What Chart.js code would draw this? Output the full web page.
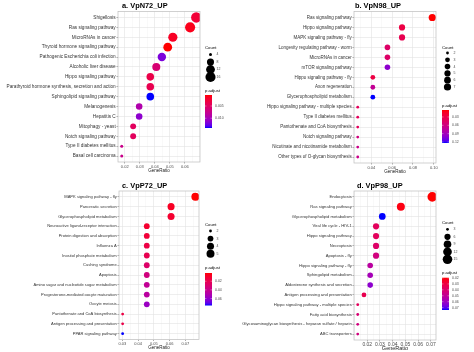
<!DOCTYPE html>
<html>
<head>
<meta charset="utf-8">
<script src="https://cdn.jsdelivr.net/npm/chart.js@4.4.1/dist/chart.umd.min.js"></script>
<style>
  body { margin: 0; background: #fff; }
  #wrap { position: relative; width: 474px; height: 352px; overflow: hidden; }
  canvas { position: absolute; }
</style>
</head>
<body>
<div id="wrap">
  <canvas id="pa" width="237" height="176" style="left:0;top:0"></canvas>
  <canvas id="pb" width="237" height="176" style="left:237px;top:0"></canvas>
  <canvas id="pc" width="237" height="176" style="left:0;top:176px"></canvas>
  <canvas id="pd" width="237" height="176" style="left:237px;top:176px"></canvas>
</div>
<script>
// a. VpN72_UP
const aTerms = ["Shigellosis", "Ras signaling pathway", "MicroRNAs in cancer", "Thyroid hormone signaling pathway",
  "Pathogenic Escherichia coli infection", "Alcoholic liver disease", "Hippo signaling pathway",
  "Parathyroid hormone synthesis, secretion and action", "Sphingolipid signaling pathway", "Melanogenesis",
  "Hepatitis C", "Mitophagy - yeast", "Notch signaling pathway", "Type II diabetes mellitus", "Basal cell carcinoma"];
const aRatio = [0.0676, 0.0635, 0.052, 0.0486, 0.0447, 0.041, 0.037, 0.037, 0.037, 0.0296, 0.0296, 0.0256, 0.0256, 0.018, 0.018];
const aCount = [17, 16, 13, 12, 11, 10, 9, 9, 9, 7, 7, 6, 6, 4, 4];
const aPadj = [0.0025, 0.0012, 0.0016, 0.0005, 0.0120, 0.0059, 0.0035, 0.0039, 0.0140, 0.0093, 0.0113, 0.0046, 0.0046, 0.0073, 0.0073];
const aTicks = [0.02, 0.03, 0.04, 0.05, 0.06];
const aCountBreaks = [4, 8, 12, 16];
const aPadjBreaks = [0.005, 0.010];

// b. VpN98_UP
const bTerms = ["Ras signaling pathway", "Hippo signaling pathway", "MAPK signaling pathway - fly",
  "Longevity regulating pathway - worm", "MicroRNAs in cancer", "mTOR signaling pathway",
  "Hippo signaling pathway - fly", "Axon regeneration", "Glycerophospholipid metabolism",
  "Hippo signaling pathway - multiple species", "Type II diabetes mellitus", "Pantothenate and CoA biosynthesis",
  "Notch signaling pathway", "Nicotinate and nicotinamide metabolism", "Other types of O-glycan biosynthesis"];
const bRatio = [0.0985, 0.0695, 0.0695, 0.0555, 0.0555, 0.0555, 0.0415, 0.0415, 0.0415, 0.027, 0.027, 0.027, 0.027, 0.027, 0.027];
const bCount = [7, 5, 5, 4, 4, 4, 3, 3, 3, 2, 2, 2, 2, 2, 2];
const bPadj = [0.005, 0.0287, 0.0347, 0.0465, 0.0465, 0.0999, 0.0287, 0.0702, 0.1236, 0.0406, 0.0406, 0.0406, 0.0584, 0.0643, 0.0643];
const bTicks = [0.04, 0.06, 0.08, 0.10];
const bCountBreaks = [2, 3, 4, 5, 6, 7];
const bPadjBreaks = [0.03, 0.06, 0.09, 0.12];

// c. VpP72_UP
const cTerms = ["MAPK signaling pathway - fly", "Pancreatic secretion", "Glycerophospholipid metabolism",
  "Neuroactive ligand-receptor interaction", "Protein digestion and absorption", "Influenza A",
  "Inositol phosphate metabolism", "Cushing syndrome", "Apoptosis", "Amino sugar and nucleotide sugar metabolism",
  "Progesterone-mediated oocyte maturation", "Oocyte meiosis", "Pantothenate and CoA biosynthesis",
  "Antigen processing and presentation", "PPAR signaling pathway"];
const cRatio = [0.0763, 0.0609, 0.0609, 0.0455, 0.0455, 0.0455, 0.0455, 0.0455, 0.0455, 0.0455, 0.0455, 0.0455, 0.0302, 0.0302, 0.0302];
const cCount = [5, 4, 4, 3, 3, 3, 3, 3, 3, 3, 3, 3, 2, 2, 2];
const cPadj = [0.001, 0.007, 0.010, 0.010, 0.0123, 0.016, 0.0198, 0.0273, 0.0348, 0.0423, 0.046, 0.0573, 0.016, 0.0175, 0.076];
const cTicks = [0.03, 0.04, 0.05, 0.06, 0.07];
const cCountBreaks = [2, 3, 4, 5];
const cPadjBreaks = [0.02, 0.04, 0.06];

// d. VpP98_UP
const dTerms = ["Endocytosis", "Ras signaling pathway", "Glycerophospholipid metabolism", "Viral life cycle - HIV-1",
  "Hippo signaling pathway", "Necroptosis", "Apoptosis - fly", "Hippo signaling pathway - fly",
  "Sphingolipid metabolism", "Aldosterone synthesis and secretion", "Antigen processing and presentation",
  "Hippo signaling pathway - multiple species", "Fatty acid biosynthesis",
  "Glycosaminoglycan biosynthesis - heparan sulfate / heparin", "ABC transporters"];
const dRatio = [0.0711, 0.0464, 0.0318, 0.0269, 0.0269, 0.0269, 0.0269, 0.0223, 0.0223, 0.0223, 0.0174, 0.0125, 0.0125, 0.0125, 0.0125];
const dCount = [15, 10, 7, 6, 6, 6, 6, 5, 5, 5, 4, 3, 3, 3, 3];
const dPadj = [0.0195, 0.0211, 0.074, 0.0359, 0.0359, 0.0386, 0.044, 0.0522, 0.0577, 0.0631, 0.0331, 0.0359, 0.0413, 0.044, 0.044];
const dTicks = [0.02, 0.03, 0.04, 0.05, 0.06, 0.07];
const dCountBreaks = [3, 6, 9, 12, 15];
const dPadjBreaks = [0.02, 0.03, 0.04, 0.05, 0.06, 0.07];

const FONT = '"Liberation Sans", Arial, sans-serif';
const W = 237, H = 176;

// red -> blue through Lab, like ggplot's gradient
function toLin(c) { c /= 255; return c <= 0.04045 ? c / 12.92 : Math.pow((c + 0.055) / 1.055, 2.4); }
function fromLin(c) {
  c = c <= 0.0031308 ? 12.92 * c : 1.055 * Math.pow(Math.max(c, 0), 1 / 2.4) - 0.055;
  return Math.round(Math.max(0, Math.min(1, c)) * 255);
}
function rgb2lab(rgb) {
  const [r, g, b] = rgb.map(toLin);
  const f = t => t > 0.008856 ? Math.cbrt(t) : 7.787 * t + 16 / 116;
  const x = f((0.4124 * r + 0.3576 * g + 0.1805 * b) / 0.95047);
  const y = f(0.2126 * r + 0.7152 * g + 0.0722 * b);
  const z = f((0.0193 * r + 0.1192 * g + 0.9505 * b) / 1.08883);
  return [116 * y - 16, 500 * (x - y), 200 * (y - z)];
}
function lab2rgb(L, a, bb) {
  const fy = (L + 16) / 116, fx = a / 500 + fy, fz = fy - bb / 200;
  const g = t => t * t * t > 0.008856 ? t * t * t : (t - 16 / 116) / 7.787;
  const x = g(fx) * 0.95047, y = g(fy), z = g(fz) * 1.08883;
  const r = 3.2406 * x - 1.5372 * y - 0.4986 * z;
  const gg = -0.9689 * x + 1.8758 * y + 0.0415 * z;
  const b = 0.0557 * x - 0.2040 * y + 1.0570 * z;
  return `rgb(${fromLin(r)},${fromLin(gg)},${fromLin(b)})`;
}
const LOW = rgb2lab([255, 0, 0]), HIGH = rgb2lab([0, 0, 255]);
function colorAt(t) {
  const v = LOW.map((c, i) => c + (HIGH[i] - c) * t);
  return lab2rgb(v[0], v[1], v[2]);
}

function makePanel(id, P, L) {
  const n = P.terms.length;
  const lo = Math.min(...P.ratio), hi = Math.max(...P.ratio), pad = (hi - lo) * 0.05;
  const cmin = Math.min(...P.count), cmax = Math.max(...P.count);
  const pmin = Math.min(...P.padj), pmax = Math.max(...P.padj);
  const rad = c => L.rmin + (L.rmax - L.rmin) * Math.sqrt(Math.max(0, (c - cmin) / (cmax - cmin)));
  const col = p => colorAt((p - pmin) / (pmax - pmin));
  const near = (v, list) => list.some(t => Math.abs(v - t) < 1e-6);
  const step = P.ticks[1] - P.ticks[0];

  const decor = {
    id: 'decor',
    afterDraw(chart) {
      const ctx = chart.ctx, a = chart.chartArea;
      ctx.save();
      ctx.strokeStyle = '#bdbdbd';
      ctx.lineWidth = 0.7;
      ctx.strokeRect(a.left, a.top, a.right - a.left, a.bottom - a.top);

      ctx.fillStyle = '#000';
      ctx.textBaseline = 'middle';
      ctx.textAlign = 'left';
      ctx.font = `bold 7.4px ${FONT}`;
      ctx.fillText(P.title, L.titleX, L.titleY);

      // Count legend
      ctx.font = `4.3px ${FONT}`;
      ctx.fillText('Count', 205, L.countY);
      P.countBreaks.forEach((c, i) => {
        const y = L.keyY0 + i * L.keyStep;
        ctx.fillStyle = '#000';
        ctx.beginPath();
        ctx.arc(210.5, y, rad(c), 0, Math.PI * 2);
        ctx.fill();
        ctx.fillStyle = '#4d4d4d';
        ctx.font = `3.5px ${FONT}`;
        ctx.fillText(String(c), 216.5, y);
      });

      // p.adjust colour bar, low p on top
      ctx.fillStyle = '#000';
      ctx.font = `4.3px ${FONT}`;
      ctx.fillText('p.adjust', 205, L.padjY);
      const grad = ctx.createLinearGradient(0, L.barTop, 0, L.barBot);
      for (let k = 0; k <= 20; k++) grad.addColorStop(k / 20, colorAt(k / 20));
      ctx.fillStyle = grad;
      ctx.fillRect(205, L.barTop, 7, L.barBot - L.barTop);
      P.padjBreaks.forEach(b => {
        const y = L.barTop + (b - pmin) / (pmax - pmin) * (L.barBot - L.barTop);
        ctx.strokeStyle = 'rgba(255,255,255,0.9)';
        ctx.lineWidth = 0.4;
        ctx.beginPath();
        ctx.moveTo(205, y); ctx.lineTo(206.5, y);
        ctx.moveTo(210.5, y); ctx.lineTo(212, y);
        ctx.stroke();
        ctx.fillStyle = '#4d4d4d';
        ctx.font = `3.5px ${FONT}`;
        ctx.fillText(b.toFixed(P.pdec), 215, y);
      });
      ctx.restore();
    }
  };

  return new Chart(document.getElementById(id), {
    type: 'bubble',
    data: {
      datasets: [{
        data: P.terms.map((t, i) => ({ x: P.ratio[i], y: i, r: rad(P.count[i]) })),
        backgroundColor: P.padj.map(col),
        borderWidth: 0,
        hoverRadius: 0
      }]
    },
    options: {
      responsive: false,
      animation: false,
      events: [],
      layout: { padding: { left: 0, top: L.top, right: W - L.right, bottom: 0 } },
      plugins: { legend: { display: false }, tooltip: { enabled: false } },
      scales: {
        x: {
          type: 'linear',
          min: lo - pad,
          max: hi + pad,
          ticks: {
            stepSize: step / 2,
            autoSkip: false,
            includeBounds: false,
            maxRotation: 0,
            padding: 0.5,
            color: '#4d4d4d',
            font: { family: FONT, size: L.tickFont },
            callback: v => near(v, P.ticks) ? v.toFixed(2) : ''
          },
          grid: {
            color: ctx => near(ctx.tick.value, P.ticks) ? '#e3e3e3' : '#f0f0f0',
            lineWidth: ctx => near(ctx.tick.value, P.ticks) ? 0.6 : 0.4,
            tickLength: 1.5,
            tickWidth: 0.5,
            tickColor: ctx => near(ctx.tick.value, P.ticks) ? '#555' : 'rgba(0,0,0,0)'
          },
          border: { display: false },
          title: {
            display: true,
            text: 'GeneRatio',
            color: '#222',
            font: { family: FONT, size: L.xTitleFont },
            padding: { top: 0, bottom: L.xTitlePad }
          },
          afterFit: s => { s.height = H - L.bottom; s.paddingLeft = 0; s.paddingRight = 0; }
        },
        y: {
          type: 'linear',
          reverse: true,
          min: -0.6,
          max: n - 0.4,
          ticks: {
            stepSize: 1,
            autoSkip: false,
            includeBounds: false,
            padding: 0.8,
            color: '#333',
            font: { family: FONT, size: L.yFont },
            callback: v => P.terms[Math.round(v)] ?? ''
          },
          grid: { color: '#e3e3e3', lineWidth: 0.6, tickLength: 1.5, tickWidth: 0.5, tickColor: '#555' },
          border: { display: false },
          afterFit: s => { s.width = L.left; s.paddingTop = 0; s.paddingBottom = 0; }
        }
      }
    },
    plugins: [decor]
  });
}

makePanel('pa',
  { title: 'a. VpN72_UP', terms: aTerms, ratio: aRatio, count: aCount, padj: aPadj, ticks: aTicks,
    countBreaks: aCountBreaks, padjBreaks: aPadjBreaks, pdec: 3 },
  { left: 118, right: 200, top: 11.5, bottom: 162, titleX: 122, titleY: 6, yFont: 4.7, tickFont: 4,
    xTitleFont: 4.5, xTitlePad: 2.3, countY: 48, keyY0: 54.5, keyStep: 7.5, padjY: 91, barTop: 95, barBot: 128,
    rmin: 1.5, rmax: 5.2 });

makePanel('pb',
  { title: 'b. VpN98_UP', terms: bTerms, ratio: bRatio, count: bCount, padj: bPadj, ticks: bTicks,
    countBreaks: bCountBreaks, padjBreaks: bPadjBreaks, pdec: 2 },
  { left: 117, right: 199, top: 11.5, bottom: 163, titleX: 118, titleY: 6, yFont: 4.5, tickFont: 4,
    xTitleFont: 4.5, xTitlePad: 1.6, countY: 48, keyY0: 53, keyStep: 6.8, padjY: 106, barTop: 110, barBot: 143,
    rmin: 1.4, rmax: 3.6 });

makePanel('pc',
  { title: 'c. VpP72_UP', terms: cTerms, ratio: cRatio, count: cCount, padj: cPadj, ticks: cTicks,
    countBreaks: cCountBreaks, padjBreaks: cPadjBreaks, pdec: 2 },
  { left: 119, right: 199, top: 15, bottom: 163.5, titleX: 122, titleY: 10, yFont: 4.05, tickFont: 4,
    xTitleFont: 4.5, xTitlePad: 1.6, countY: 49, keyY0: 55, keyStep: 7.6, padjY: 92, barTop: 97, barBot: 129.5,
    rmin: 1.4, rmax: 4 });

makePanel('pd',
  { title: 'd. VpP98_UP', terms: dTerms, ratio: dRatio, count: dCount, padj: dPadj, ticks: dTicks,
    countBreaks: dCountBreaks, padjBreaks: dPadjBreaks, pdec: 2 },
  { left: 117, right: 199, top: 15, bottom: 164, titleX: 120, titleY: 10, yFont: 4.15, tickFont: 5,
    xTitleFont: 5.5, xTitlePad: 0, countY: 46.7, keyY0: 53.3, keyStep: 7.5, padjY: 97.3, barTop: 101.7, barBot: 134,
    rmin: 1.4, rmax: 4.8 });
</script>
</body>
</html>
